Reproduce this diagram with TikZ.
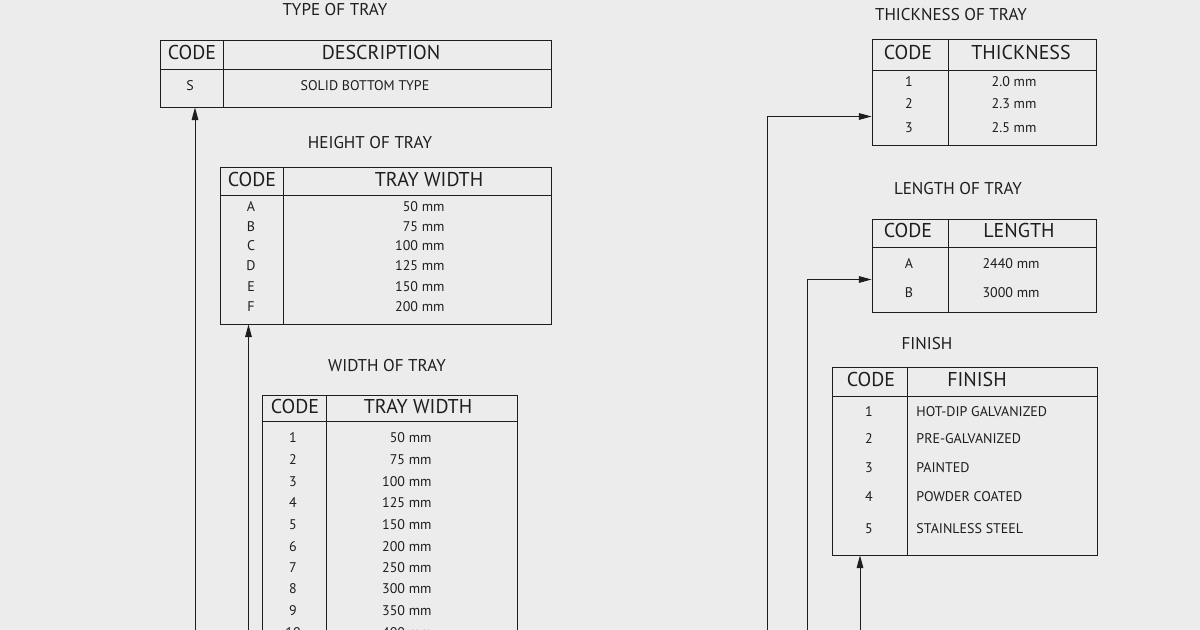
\documentclass[tikz,border=0pt]{standalone}
\usepackage{fontspec}
\setmainfont{PT Sans}
\usetikzlibrary{arrows.meta,fit}
\definecolor{paper}{RGB}{236,236,236}
\definecolor{ink}{RGB}{30,30,30}
\tikzset{every picture/.style={line width=0.7pt}}
\tikzset{
  tbl/.style={draw=ink, inner sep=0pt},
  ttl/.style={text=ink, inner sep=0.75pt, font=\fontsize{12.8}{15}\selectfont},
  hdr/.style={text=ink, inner sep=0.75pt, font=\fontsize{15}{18}\selectfont},
  cell/.style={text=ink, inner sep=0.75pt, font=\fontsize{10.5}{12}\selectfont},
  feed/.style={draw=ink, -{Triangle[length=9.5pt,width=5pt]}},
}

\begin{document}
\begin{tikzpicture}[x=0.75pt,y=0.75pt,yscale=-1,xscale=1]
    \clip (0,0) rectangle (1200,630);
    \fill[paper] (0,0) rectangle (1200,630);

    %Table: type of tray
    \node[ttl] (typeTtl) at (335,10) {TYPE OF TRAY};
    \node[tbl, fit={(160,40) (551,107)}] (type) {};
    \draw[ink] (160,69) -- (551,69) (223,40) -- (223,107);
    \node[hdr] (typeCode) at (192,53) {CODE};
    \node[hdr] (typeDesc) at (381,53) {DESCRIPTION};
    \node[cell] (typeS) at (190,86) {S};
    \node[cell] (typeSv) at (365,86) {SOLID BOTTOM TYPE};

    %Table: height of tray
    \node[ttl] (hgtTtl) at (370,143) {HEIGHT OF TRAY};
    \node[tbl, fit={(220,167) (551,324)}] (hgt) {};
    \draw[ink] (220,195) -- (551,195) (283,167) -- (283,324);
    \node[hdr] (hgtCode) at (252,180) {CODE};
    \node[hdr] (hgtHead) at (429,180) {TRAY WIDTH};
    \node[cell] (hgtA) at (251,207) {A};
    \node[cell, anchor=east] (hgtAv) at (446,207) {50 mm};
    \node[cell] (hgtB) at (251,227) {B};
    \node[cell, anchor=east] (hgtBv) at (446,227) {75 mm};
    \node[cell] (hgtC) at (251,246) {C};
    \node[cell, anchor=east] (hgtCv) at (446,246) {100 mm};
    \node[cell] (hgtD) at (251,266) {D};
    \node[cell, anchor=east] (hgtDv) at (446,266) {125 mm};
    \node[cell] (hgtE) at (251,287) {E};
    \node[cell, anchor=east] (hgtEv) at (446,287) {150 mm};
    \node[cell] (hgtF) at (251,307) {F};
    \node[cell, anchor=east] (hgtFv) at (446,307) {200 mm};

    %Table: width of tray
    \node[ttl] (wdtTtl) at (387,366) {WIDTH OF TRAY};
    \node[tbl, fit={(262,395) (517,680)}] (wdt) {};
    \draw[ink] (262,421) -- (517,421) (326,395) -- (326,680);
    \node[hdr] (wdtCode) at (295,407) {CODE};
    \node[hdr] (wdtHead) at (418,407) {TRAY WIDTH};
    \node[cell] (wdt1) at (293,438) {1};
    \node[cell, anchor=east] (wdt1v) at (433,438) {50 mm};
    \node[cell] (wdt2) at (293,460) {2};
    \node[cell, anchor=east] (wdt2v) at (433,460) {75 mm};
    \node[cell] (wdt3) at (293,482) {3};
    \node[cell, anchor=east] (wdt3v) at (433,482) {100 mm};
    \node[cell] (wdt4) at (293,503) {4};
    \node[cell, anchor=east] (wdt4v) at (433,503) {125 mm};
    \node[cell] (wdt5) at (293,525) {5};
    \node[cell, anchor=east] (wdt5v) at (433,525) {150 mm};
    \node[cell] (wdt6) at (293,547) {6};
    \node[cell, anchor=east] (wdt6v) at (433,547) {200 mm};
    \node[cell] (wdt7) at (293,568) {7};
    \node[cell, anchor=east] (wdt7v) at (433,568) {250 mm};
    \node[cell] (wdt8) at (293,589) {8};
    \node[cell, anchor=east] (wdt8v) at (433,589) {300 mm};
    \node[cell] (wdt9) at (293,611) {9};
    \node[cell, anchor=east] (wdt9v) at (433,611) {350 mm};
    \node[cell] (wdt10) at (293,633) {10};
    \node[cell, anchor=east] (wdt10v) at (433,633) {400 mm};

    %Table: thickness of tray
    \node[ttl] (thkTtl) at (951,15) {THICKNESS OF TRAY};
    \node[tbl, fit={(872,39) (1096,145)}] (thk) {};
    \draw[ink] (872,70) -- (1096,70) (948,39) -- (948,145);
    \node[hdr] (thkCode) at (908,53) {CODE};
    \node[hdr] (thkHead) at (1021,53) {THICKNESS};
    \node[cell] (thk1) at (909,82) {1};
    \node[cell] (thk1v) at (1014,82) {2.0 mm};
    \node[cell] (thk2) at (909,104) {2};
    \node[cell] (thk2v) at (1014,104) {2.3 mm};
    \node[cell] (thk3) at (909,128) {3};
    \node[cell] (thk3v) at (1014,128) {2.5 mm};

    %Table: length of tray
    \node[ttl] (lenTtl) at (958,189) {LENGTH OF TRAY};
    \node[tbl, fit={(872,219) (1096,312)}] (len) {};
    \draw[ink] (872,247) -- (1096,247) (948,219) -- (948,312);
    \node[hdr] (lenCode) at (908,231) {CODE};
    \node[hdr] (lenHead) at (1019,231) {LENGTH};
    \node[cell] (lenA) at (909,264) {A};
    \node[cell] (lenAv) at (1011,264) {2440 mm};
    \node[cell] (lenB) at (909,293) {B};
    \node[cell] (lenBv) at (1011,293) {3000 mm};

    %Table: finish
    \node[ttl] (finTtl) at (927,344) {FINISH};
    \node[tbl, fit={(832,367) (1097,555)}] (fin) {};
    \draw[ink] (832,396) -- (1097,396) (907,367) -- (907,555);
    \node[hdr] (finCode) at (871,380) {CODE};
    \node[hdr] (finHead) at (977,380) {FINISH};
    \node[cell] (fin1) at (869,412) {1};
    \node[cell, anchor=west] (fin1v) at (915,412) {HOT-DIP GALVANIZED};
    \node[cell] (fin2) at (869,439) {2};
    \node[cell, anchor=west] (fin2v) at (915,439) {PRE-GALVANIZED};
    \node[cell] (fin3) at (869,468) {3};
    \node[cell, anchor=west] (fin3v) at (915,468) {PAINTED};
    \node[cell] (fin4) at (869,497) {4};
    \node[cell, anchor=west] (fin4v) at (915,497) {POWDER COATED};
    \node[cell] (fin5) at (869,529) {5};
    \node[cell, anchor=west] (fin5v) at (915,529) {STAINLESS STEEL};

    %Connectors from below the page
    \coordinate (typeFoot) at (195,640);
    \coordinate (hgtFoot) at (248.5,640);
    \coordinate (thkFoot) at (767.5,640);
    \coordinate (lenFoot) at (807.5,640);
    \coordinate (finFoot) at (860,640);
    \draw[feed] (typeFoot) -- (typeFoot |- type.south);
    \draw[feed] (hgtFoot) -- (hgtFoot |- hgt.south);
    \draw[feed] (thkFoot) |- (thk.west |- 0,116.5);
    \draw[feed] (lenFoot) |- (len.west |- 0,279.5);
    \draw[feed] (finFoot) -- (finFoot |- fin.south);
\end{tikzpicture}
\end{document}
